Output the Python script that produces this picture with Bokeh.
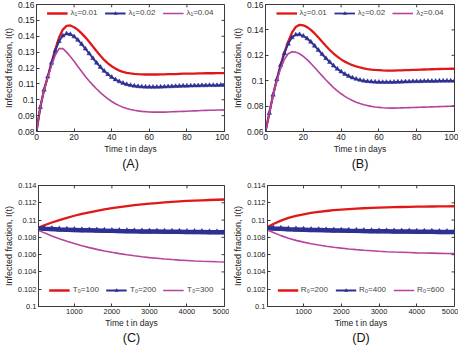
from bokeh.plotting import figure
from bokeh.layouts import column, row
from bokeh.models import FixedTicker, Legend, LegendItem, Range1d, LinearAxis
from bokeh.embed import file_html
from bokeh.resources import INLINE

FONT = "Liberation Sans"
AX = "#3a3a3a"
RED = "#e01818"
BLUE = "#2e3192"
MAG = "#b5449d"

# ---------------- data ----------------
t_ab = list(range(0, 101, 2))

a_red = [0.0800, 0.0952, 0.1062, 0.1145, 0.1235, 0.1318, 0.1392, 0.1442, 0.1465, 0.1468,
         0.1457, 0.1440, 0.1418, 0.1393, 0.1365, 0.1335, 0.1305, 0.1277, 0.1251, 0.1229,
         0.1211, 0.1196, 0.1184, 0.1176, 0.1170, 0.1166, 0.1163, 0.1161, 0.1160, 0.1159,
         0.1159, 0.1159, 0.1159, 0.1160, 0.1160, 0.1161, 0.1162, 0.1162, 0.1163, 0.1164,
         0.1164, 0.1165, 0.1165, 0.1166, 0.1166, 0.1167, 0.1167, 0.1167, 0.1168, 0.1168,
         0.1168]
a_blue = [0.0800, 0.0952, 0.1062, 0.1145, 0.1232, 0.1308, 0.1368, 0.1403, 0.1416, 0.1412,
          0.1398, 0.1376, 0.1350, 0.1321, 0.1291, 0.1261, 0.1232, 0.1205, 0.1181, 0.1160,
          0.1142, 0.1127, 0.1115, 0.1105, 0.1097, 0.1091, 0.1087, 0.1084, 0.1082, 0.1081,
          0.1080, 0.1080, 0.1080, 0.1081, 0.1082, 0.1083, 0.1084, 0.1085, 0.1086, 0.1087,
          0.1087, 0.1088, 0.1089, 0.1089, 0.1090, 0.1090, 0.1091, 0.1091, 0.1091, 0.1092,
          0.1092]
a_mag = [0.0800, 0.0952, 0.1060, 0.1140, 0.1215, 0.1282, 0.1322, 0.1322, 0.1300, 0.1272,
         0.1242, 0.1210, 0.1178, 0.1146, 0.1118, 0.1092, 0.1068, 0.1045, 0.1024, 0.1005,
         0.0989, 0.0975, 0.0963, 0.0953, 0.0945, 0.0939, 0.0934, 0.0930, 0.0927, 0.0925,
         0.0923, 0.0922, 0.0922, 0.0922, 0.0922, 0.0923, 0.0924, 0.0925, 0.0926, 0.0927,
         0.0928, 0.0929, 0.0930, 0.0931, 0.0932, 0.0933, 0.0934, 0.0934, 0.0935, 0.0935,
         0.0936]

b_red = [0.0600, 0.0744, 0.0888, 0.1010, 0.1124, 0.1222, 0.1308, 0.1378, 0.1423, 0.1440,
         0.1436, 0.1422, 0.1400, 0.1372, 0.1340, 0.1306, 0.1273, 0.1242, 0.1214, 0.1190,
         0.1168, 0.1150, 0.1135, 0.1122, 0.1112, 0.1104, 0.1097, 0.1092, 0.1088, 0.1085,
         0.1083, 0.1081, 0.1080, 0.1080, 0.1080, 0.1081, 0.1082, 0.1083, 0.1084, 0.1085,
         0.1086, 0.1087, 0.1088, 0.1089, 0.1090, 0.1091, 0.1092, 0.1093, 0.1093, 0.1094,
         0.1094]
b_blue = [0.0600, 0.0744, 0.0888, 0.1010, 0.1122, 0.1215, 0.1290, 0.1340, 0.1362, 0.1364,
          0.1352, 0.1332, 0.1305, 0.1274, 0.1241, 0.1208, 0.1176, 0.1146, 0.1118, 0.1093,
          0.1071, 0.1052, 0.1036, 0.1023, 0.1013, 0.1005, 0.0999, 0.0995, 0.0992, 0.0990,
          0.0989, 0.0988, 0.0988, 0.0988, 0.0989, 0.0990, 0.0991, 0.0992, 0.0993, 0.0994,
          0.0995, 0.0995, 0.0996, 0.0996, 0.0997, 0.0997, 0.0998, 0.0998, 0.0999, 0.0999,
          0.0999]
b_mag = [0.0600, 0.0744, 0.0885, 0.1000, 0.1095, 0.1168, 0.1212, 0.1228, 0.1225, 0.1212,
         0.1192, 0.1166, 0.1136, 0.1104, 0.1071, 0.1038, 0.1006, 0.0975, 0.0946, 0.0920,
         0.0897, 0.0877, 0.0859, 0.0844, 0.0831, 0.0820, 0.0811, 0.0804, 0.0798, 0.0793,
         0.0790, 0.0787, 0.0785, 0.0784, 0.0784, 0.0785, 0.0786, 0.0787, 0.0788, 0.0789,
         0.0790, 0.0791, 0.0792, 0.0793, 0.0794, 0.0795, 0.0796, 0.0797, 0.0798, 0.0799,
         0.0801]

t_cd = list(range(0, 5001, 200))

c_red = [0.10905, 0.10940, 0.10972, 0.11000, 0.11026, 0.11050, 0.11071, 0.11090, 0.11107,
         0.11123, 0.11137, 0.11150, 0.11161, 0.11172, 0.11181, 0.11190, 0.11197, 0.11204,
         0.11210, 0.11216, 0.11221, 0.11225, 0.11229, 0.11232, 0.11235, 0.11238]
c_blue = [0.10905, 0.10900, 0.10896, 0.10892, 0.10889, 0.10886, 0.10883, 0.10881, 0.10879,
          0.10877, 0.10875, 0.10873, 0.10872, 0.10870, 0.10869, 0.10868, 0.10867, 0.10866,
          0.10865, 0.10864, 0.10863, 0.10862, 0.10861, 0.10860, 0.10859, 0.10858]
c_mag = [0.10890, 0.10852, 0.10817, 0.10785, 0.10755, 0.10728, 0.10703, 0.10681, 0.10661,
         0.10643, 0.10627, 0.10612, 0.10599, 0.10587, 0.10576, 0.10566, 0.10558, 0.10550,
         0.10543, 0.10537, 0.10532, 0.10527, 0.10523, 0.10520, 0.10517, 0.10515]

d_red = [0.10910, 0.10955, 0.10994, 0.11025, 0.11048, 0.11067, 0.11082, 0.11095, 0.11105,
         0.11114, 0.11121, 0.11127, 0.11132, 0.11137, 0.11141, 0.11144, 0.11147, 0.11149,
         0.11151, 0.11153, 0.11155, 0.11156, 0.11157, 0.11158, 0.11159, 0.11160]
d_blue = [0.10908, 0.10903, 0.10899, 0.10895, 0.10892, 0.10889, 0.10886, 0.10884, 0.10882,
          0.10880, 0.10878, 0.10876, 0.10875, 0.10873, 0.10872, 0.10871, 0.10870, 0.10869,
          0.10868, 0.10867, 0.10866, 0.10865, 0.10864, 0.10863, 0.10862, 0.10862]
d_mag = [0.10894, 0.10855, 0.10820, 0.10790, 0.10765, 0.10745, 0.10727, 0.10711, 0.10697,
         0.10685, 0.10675, 0.10666, 0.10658, 0.10651, 0.10645, 0.10639, 0.10634, 0.10630,
         0.10627, 0.10624, 0.10621, 0.10619, 0.10617, 0.10615, 0.10613, 0.10612]

labels_a = ["λ₁=0.01", "λ₁=0.02", "λ₁=0.04"]
labels_b = ["λ₂=0.01", "λ₂=0.02", "λ₂=0.04"]
labels_c = ["T₀=100", "T₀=200", "T₀=300"]
labels_d = ["R₀=200", "R₀=400", "R₀=600"]

xt_ab = [0, 20, 40, 60, 80, 100]
xl_ab = ["0", "20", "40", "60", "80", "100"]
xt_cd = [1000, 2000, 3000, 4000, 5000]
xl_cd = ["1000", "2000", "3000", "4000", "5000"]
yt_a = [0.08, 0.09, 0.10, 0.11, 0.12, 0.13, 0.14, 0.15, 0.16]
yl_a = ["0.08", "0.09", "0.1", "0.11", "0.12", "0.13", "0.14", "0.15", "0.16"]
yt_b = [0.06, 0.08, 0.10, 0.12, 0.14, 0.16]
yl_b = ["0.06", "0.08", "0.1", "0.12", "0.14", "0.16"]
yt_cd = [0.100, 0.102, 0.104, 0.106, 0.108, 0.110, 0.112, 0.114]
yl_cd = ["0.1", "0.102", "0.104", "0.106", "0.108", "0.11", "0.112", "0.114"]

XLABEL = "Time t in days"
YLABEL = "Infected fraction, I(t)"


def panel(x, ys, labels, xr, yr, xt, xl, yt, yl, leg_loc, leg_margin, tag,
          w, h, bl, br, bt, bb, tick_fs, band_lw, blue_ms):
    p = figure(width=w, height=h, x_range=Range1d(*xr), y_range=Range1d(*yr),
               output_backend="svg", toolbar_location=None,
               min_border_left=bl, min_border_right=br,
               min_border_top=bt, min_border_bottom=bb, margin=0)
    p.xgrid.visible = False
    p.ygrid.visible = False
    p.outline_line_color = AX
    p.outline_line_width = 1

    colors = [RED, BLUE, MAG]
    widths = [2.3, 1.8, 1.6]
    items = []
    for i, (yv, col, lw, lab) in enumerate(zip(ys, colors, widths, labels)):
        if i == 1 and band_lw > 0:
            p.line(x, yv, line_color=col, line_width=band_lw)
        r = p.line(x, yv, line_color=col, line_width=lw)
        rs = [r]
        if i == 1:
            m = p.scatter(x, yv, marker="triangle", size=blue_ms, fill_color=col,
                          line_color=col, line_width=0.5)
            rs.append(m)
        items.append(LegendItem(label=lab, renderers=rs))

    leg = Legend(items=items, orientation="horizontal", location=leg_loc,
                 label_text_font=FONT, label_text_font_size="8px",
                 glyph_width=21, glyph_height=8, label_standoff=3, spacing=7,
                 padding=0, margin=leg_margin, border_line_color=None,
                 background_fill_alpha=0, label_height=9)
    p.add_layout(leg)

    xa = p.below[0]
    ya = p.left[0]
    for ax, ticks, labs in ((xa, xt, xl), (ya, yt, yl)):
        ax.ticker = FixedTicker(ticks=ticks)
        ax.major_label_overrides = {v: s for v, s in zip(ticks, labs)}
        ax.major_tick_in = 3
        ax.major_tick_out = 0
        ax.minor_tick_line_color = None
        ax.axis_line_color = AX
        ax.major_tick_line_color = AX
        ax.major_label_text_font = FONT
        ax.major_label_text_font_size = tick_fs
        ax.major_label_text_color = "#222222"
        ax.major_label_standoff = 2
        ax.axis_label_text_font = FONT
        ax.axis_label_text_font_style = "normal"
        ax.axis_label_text_color = "#222222"
        ax.axis_label_standoff = 1
    xa.axis_label = XLABEL
    xa.axis_label_text_font_size = "8.5px"
    ya.axis_label = YLABEL
    ya.axis_label_text_font_size = "9px"

    # panel tag "(A)" etc. as a tick-less axis label under the x axis
    tag_axis = LinearAxis(ticker=FixedTicker(ticks=[]), axis_label=tag,
                          axis_label_text_font=FONT, axis_label_text_font_size="12.5px",
                          axis_label_text_font_style="normal",
                          axis_label_text_color="#111111", axis_label_standoff=0,
                          major_label_standoff=0, major_tick_in=0, major_tick_out=0,
                          minor_tick_line_color=None, axis_line_color=None,
                          major_tick_line_color=None)
    p.add_layout(tag_axis, "below")

    # inward ticks on the top and right edges of the box (MATLAB style)
    fw = w - bl - br
    fh = h - bt - bb
    dx = 3.0 * (xr[1] - xr[0]) / fw
    dy = 3.0 * (yr[1] - yr[0]) / fh
    p.segment(x0=xt, y0=[yr[1]] * len(xt), x1=xt, y1=[yr[1] - dy] * len(xt),
              line_color=AX, line_width=1)
    p.segment(x0=[xr[1]] * len(yt), y0=yt, x1=[xr[1] - dx] * len(yt), y1=yt,
              line_color=AX, line_width=1)
    return p


pa = panel(t_ab, [a_red, a_blue, a_mag], labels_a, (0, 100), (0.08, 0.16),
           xt_ab, xl_ab, yt_a, yl_a, "top_center", 4, "(A)",
           229, 173, 31, 5, 4, 35, "8.5px", 0, 4.5)
pb = panel(t_ab, [b_red, b_blue, b_mag], labels_b, (0, 100), (0.06, 0.16),
           xt_ab, xl_ab, yt_b, yl_b, "top_center", 4, "(B)",
           229, 173, 32, 4, 4, 35, "8.5px", 0, 4.5)
pc = panel(t_cd, [c_red, c_blue, c_mag], labels_c, (45, 5000), (0.1, 0.114),
           xt_cd, xl_cd, yt_cd, yl_cd, "bottom_center", 12, "(C)",
           229, 174, 36, 5, 12, 37, "7.5px", 4.5, 6)
pd = panel(t_cd, [d_red, d_blue, d_mag], labels_d, (45, 5000), (0.1, 0.114),
           xt_cd, xl_cd, yt_cd, yl_cd, "bottom_center", 12, "(D)",
           229, 174, 36, 4, 12, 37, "7.5px", 4.5, 6)

page = column(row(pa, pb, spacing=0, margin=0), row(pc, pd, spacing=0, margin=0),
              spacing=0, margin=0)

open("out.html", "w").write(file_html(page, INLINE))
